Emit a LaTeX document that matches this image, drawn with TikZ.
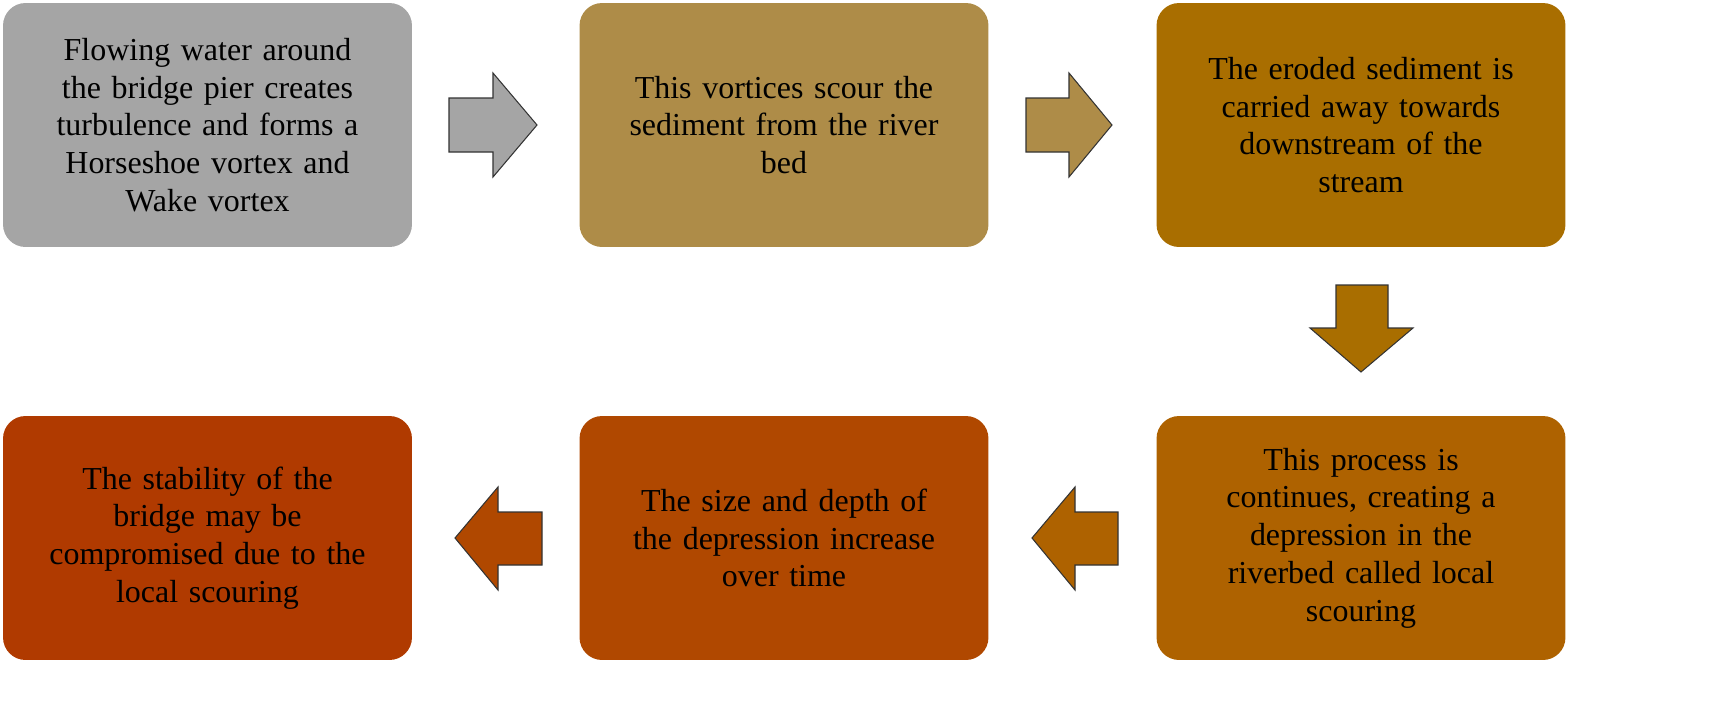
\documentclass[tikz,border=0pt]{standalone}
\usepackage{fontspec}
\setmainfont{Liberation Serif}
\usepackage[none]{hyphenat}
\begin{document}
\begin{tikzpicture}[x=0.02cm,y=-0.02cm,
  box/.style={rounded corners=0.45cm,minimum width=8.18cm,minimum height=4.88cm,text width=7.8cm,align=center,font=\fontsize{18.2}{21.5}\selectfont,inner sep=0pt},
  barrow/.style={draw=black!80,line width=0.6pt}]
\useasboundingbox (0,0) rectangle (1715,724);
\definecolor{c1}{HTML}{A5A5A5}\definecolor{c2}{HTML}{AE8C48}\definecolor{c3}{HTML}{A96E00}
\definecolor{c4}{HTML}{AE6200}\definecolor{c5}{HTML}{B04800}\definecolor{c6}{HTML}{B03A00}
\node[box,fill=c1] (b1) at (207.5,125) {Flowing water around\\the bridge pier creates\\turbulence and forms a\\Horseshoe vortex and\\Wake vortex};
\node[box,fill=c2] (b2) at (784,125) {This vortices scour the\\sediment from the river\\bed};
\node[box,fill=c3] (b3) at (1361,125) {The eroded sediment is\\carried away towards\\downstream of the\\stream};
\node[box,fill=c4] (b4) at (1361,538) {This process is\\continues, creating a\\depression in the\\riverbed called local\\scouring};
\node[box,fill=c5] (b5) at (784,538) {The size and depth of\\the depression increase\\over time};
\node[box,fill=c6] (b6) at (207.5,538) {The stability of the\\bridge may be\\compromised due to the\\local scouring};
% right arrows
\draw[barrow,fill=c1] (449,98)--(493,98)--(493,73)--(537,125)--(493,177)--(493,152)--(449,152)--cycle;
\draw[barrow,fill=c2] (1026,98)--(1069,98)--(1069,73)--(1112,125)--(1069,177)--(1069,152)--(1026,152)--cycle;
% down arrow
\draw[barrow,fill=c3] (1336,285)--(1388,285)--(1388,328)--(1413,328)--(1361,372)--(1310,328)--(1336,328)--cycle;
% left arrows
\draw[barrow,fill=c4] (1118,512)--(1075,512)--(1075,487)--(1032,538)--(1075,590)--(1075,565)--(1118,565)--cycle;
\draw[barrow,fill=c5] (542,512)--(498,512)--(498,487)--(455,538)--(498,590)--(498,565)--(542,565)--cycle;
\end{tikzpicture}
\end{document}
